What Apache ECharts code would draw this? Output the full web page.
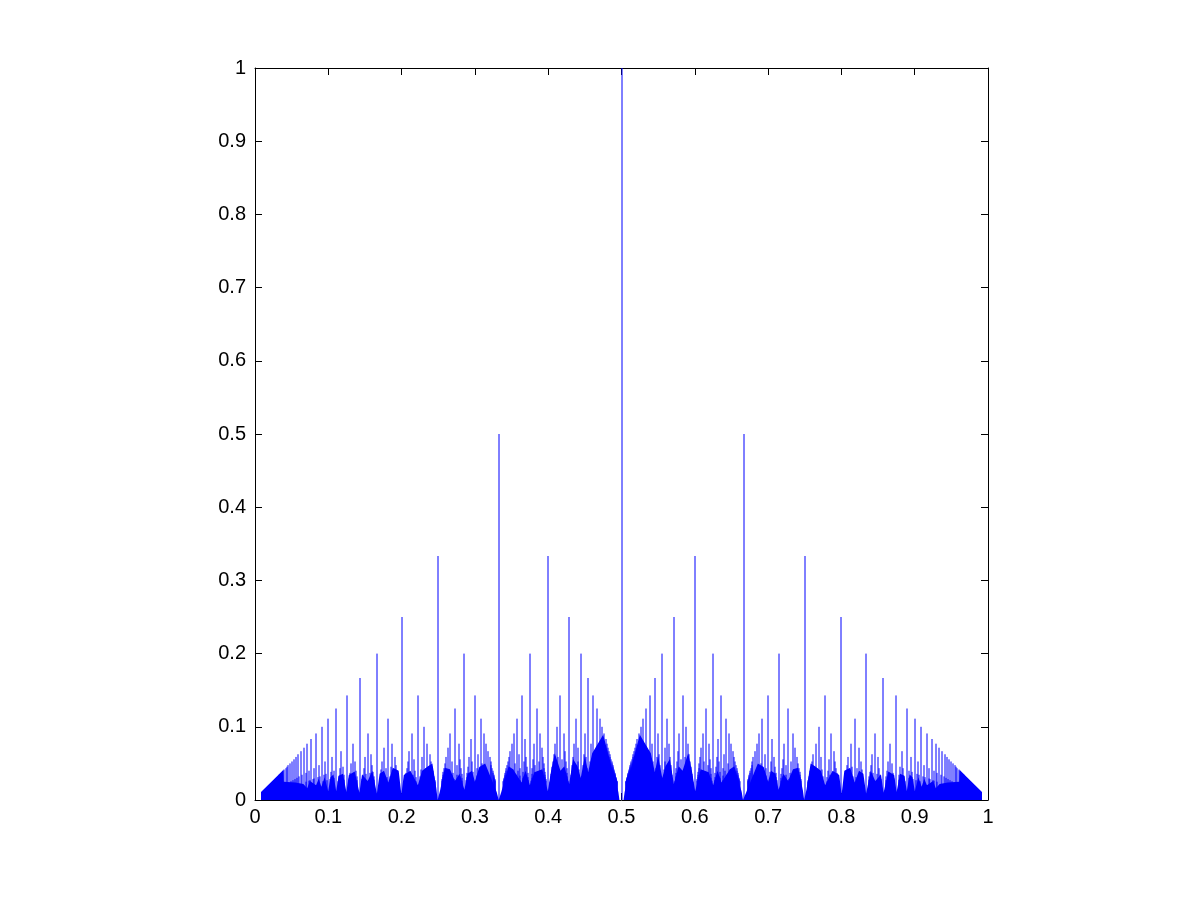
<!DOCTYPE html>
<html>
<head>
<meta charset="utf-8">
<script src="https://cdn.jsdelivr.net/npm/echarts@6/dist/echarts.min.js"></script>
<style>html,body{margin:0;padding:0;background:#fff;}#chart{width:1200px;height:900px;}</style>
</head>
<body>
<div id="chart"></div>
<script>
// Tick labels
const xTickLabels = ['0','0.1','0.2','0.3','0.4','0.5','0.6','0.7','0.8','0.9','1'];
const yTickLabels = ['0','0.1','0.2','0.3','0.4','0.5','0.6','0.7','0.8','0.9','1'];

// Stem heights, one per level (tallest first)
const levelHeights = [1,1/2,1/3,1/4,1/5,1/6,1/7,1/8,1/9,1/10,1/11,1/12,1/13,1/14,1/15,1/16,1/17,1/18,1/19,1/20,1/21,1/22,1/23,1/24,1/25,1/26,1/27,1/28,1/29,1/30,1/31,1/32,1/33,1/34,1/35,1/36,1/37,1/38,1/39,1/40];

// Stem positions for each level (same order as levelHeights)
const levelPositions = [
[1/2],
[1/3,2/3],
[1/4,2/5,3/5,3/4],
[1/5,3/7,4/7,4/5],
[1/6,2/7,3/8,4/9,5/9,5/8,5/7,5/6],
[1/7,5/11,6/11,6/7],
[1/8,2/9,3/10,4/11,5/12,6/13,7/13,7/12,7/11,7/10,7/9,7/8],
[1/9,3/11,5/13,7/15,8/15,8/13,8/11,8/9],
[1/10,2/11,4/13,5/14,7/16,8/17,9/17,9/16,9/14,9/13,9/11,9/10],
[1/11,3/13,7/17,9/19,10/19,10/17,10/13,10/11],
[1/12,2/13,3/14,4/15,5/16,6/17,7/18,8/19,9/20,10/21,11/21,11/20,11/19,11/18,11/17,11/16,11/15,11/14,11/13,11/12],
[1/13,5/17,7/19,11/23,12/23,12/19,12/17,12/13],
[1/14,2/15,3/16,4/17,5/18,6/19,7/20,8/21,9/22,10/23,11/24,12/25,13/25,13/24,13/23,13/22,13/21,13/20,13/19,13/18,13/17,13/16,13/15,13/14],
[1/15,3/17,5/19,9/23,11/25,13/27,14/27,14/25,14/23,14/19,14/17,14/15],
[1/16,2/17,4/19,7/22,8/23,11/26,13/28,14/29,15/29,15/28,15/26,15/23,15/22,15/19,15/17,15/16],
[1/17,3/19,5/21,7/23,9/25,11/27,13/29,15/31,16/31,16/29,16/27,16/25,16/23,16/21,16/19,16/17],
[1/18,2/19,3/20,4/21,5/22,6/23,7/24,8/25,9/26,10/27,11/28,12/29,13/30,14/31,15/32,16/33,17/33,17/32,17/31,17/30,17/29,17/28,17/27,17/26,17/25,17/24,17/23,17/22,17/21,17/20,17/19,17/18],
[1/19,5/23,7/25,11/29,13/31,17/35,18/35,18/31,18/29,18/25,18/23,18/19],
[1/20,2/21,3/22,4/23,5/24,6/25,7/26,8/27,9/28,10/29,11/30,12/31,13/32,14/33,15/34,16/35,17/36,18/37,19/37,19/36,19/35,19/34,19/33,19/32,19/31,19/30,19/29,19/28,19/27,19/26,19/25,19/24,19/23,19/22,19/21,19/20],
[1/21,3/23,7/27,9/29,11/31,13/33,17/37,19/39,20/39,20/37,20/33,20/31,20/29,20/27,20/23,20/21],
[1/22,2/23,4/25,5/26,8/29,10/31,11/32,13/34,16/37,17/38,19/40,20/41,21/41,21/40,21/38,21/37,21/34,21/32,21/31,21/29,21/26,21/25,21/23,21/22],
[1/23,3/25,5/27,7/29,9/31,13/35,15/37,17/39,19/41,21/43,22/43,22/41,22/39,22/37,22/35,22/31,22/29,22/27,22/25,22/23],
[1/24,2/25,3/26,4/27,5/28,6/29,7/30,8/31,9/32,10/33,11/34,12/35,13/36,14/37,15/38,16/39,17/40,18/41,19/42,20/43,21/44,22/45,23/45,23/44,23/43,23/42,23/41,23/40,23/39,23/38,23/37,23/36,23/35,23/34,23/33,23/32,23/31,23/30,23/29,23/28,23/27,23/26,23/25,23/24],
[1/25,5/29,7/31,11/35,13/37,17/41,19/43,23/47,24/47,24/43,24/41,24/37,24/35,24/31,24/29,24/25],
[1/26,2/27,3/28,4/29,6/31,7/32,8/33,9/34,11/36,12/37,13/38,14/39,16/41,17/42,18/43,19/44,21/46,22/47,23/48,24/49,25/49,25/48,25/47,25/46,25/44,25/43,25/42,25/41,25/39,25/38,25/37,25/36,25/34,25/33,25/32,25/31,25/29,25/28,25/27,25/26],
[1/27,3/29,5/31,7/33,9/35,11/37,15/41,17/43,19/45,21/47,23/49,25/51,26/51,26/49,26/47,26/45,26/43,26/41,26/37,26/35,26/33,26/31,26/29,26/27],
[1/28,2/29,4/31,5/32,7/34,8/35,10/37,11/38,13/40,14/41,16/43,17/44,19/46,20/47,22/49,23/50,25/52,26/53,27/53,27/52,27/50,27/49,27/47,27/46,27/44,27/43,27/41,27/40,27/38,27/37,27/35,27/34,27/32,27/31,27/29,27/28],
[1/29,3/31,5/33,9/37,11/39,13/41,15/43,17/45,19/47,23/51,25/53,27/55,28/55,28/53,28/51,28/47,28/45,28/43,28/41,28/39,28/37,28/33,28/31,28/29],
[1/30,2/31,3/32,4/33,5/34,6/35,7/36,8/37,9/38,10/39,11/40,12/41,13/42,14/43,15/44,16/45,17/46,18/47,19/48,20/49,21/50,22/51,23/52,24/53,25/54,26/55,27/56,28/57,29/57,29/56,29/55,29/54,29/53,29/52,29/51,29/50,29/49,29/48,29/47,29/46,29/45,29/44,29/43,29/42,29/41,29/40,29/39,29/38,29/37,29/36,29/35,29/34,29/33,29/32,29/31,29/30],
[1/31,7/37,11/41,13/43,17/47,19/49,23/53,29/59,30/59,30/53,30/49,30/47,30/43,30/41,30/37,30/31],
[1/32,2/33,3/34,4/35,5/36,6/37,7/38,8/39,9/40,10/41,11/42,12/43,13/44,14/45,15/46,16/47,17/48,18/49,19/50,20/51,21/52,22/53,23/54,24/55,25/56,26/57,27/58,28/59,29/60,30/61,31/61,31/60,31/59,31/58,31/57,31/56,31/55,31/54,31/53,31/52,31/51,31/50,31/49,31/48,31/47,31/46,31/45,31/44,31/43,31/42,31/41,31/40,31/39,31/38,31/37,31/36,31/35,31/34,31/33,31/32],
[1/33,3/35,5/37,7/39,9/41,11/43,13/45,15/47,17/49,19/51,21/53,23/55,25/57,27/59,29/61,31/63,32/63,32/61,32/59,32/57,32/55,32/53,32/51,32/49,32/47,32/45,32/43,32/41,32/39,32/37,32/35,32/33],
[1/34,2/35,4/37,5/38,7/40,8/41,10/43,13/46,14/47,16/49,17/50,19/52,20/53,23/56,25/58,26/59,28/61,29/62,31/64,32/65,33/65,33/64,33/62,33/61,33/59,33/58,33/56,33/53,33/52,33/50,33/49,33/47,33/46,33/43,33/41,33/40,33/38,33/37,33/35,33/34],
[1/35,3/37,5/39,7/41,9/43,11/45,13/47,15/49,19/53,21/55,23/57,25/59,27/61,29/63,31/65,33/67,34/67,34/65,34/63,34/61,34/59,34/57,34/55,34/53,34/49,34/47,34/45,34/43,34/41,34/39,34/37,34/35],
[1/36,2/37,3/38,4/39,6/41,8/43,9/44,11/46,12/47,13/48,16/51,17/52,18/53,19/54,22/57,23/58,24/59,26/61,27/62,29/64,31/66,32/67,33/68,34/69,35/69,35/68,35/67,35/66,35/64,35/62,35/61,35/59,35/58,35/57,35/54,35/53,35/52,35/51,35/48,35/47,35/46,35/44,35/43,35/41,35/39,35/38,35/37,35/36],
[1/37,5/41,7/43,11/47,13/49,17/53,19/55,23/59,25/61,29/65,31/67,35/71,36/71,36/67,36/65,36/61,36/59,36/55,36/53,36/49,36/47,36/43,36/41,36/37],
[1/38,2/39,3/40,4/41,5/42,6/43,7/44,8/45,9/46,10/47,11/48,12/49,13/50,14/51,15/52,16/53,17/54,18/55,19/56,20/57,21/58,22/59,23/60,24/61,25/62,26/63,27/64,28/65,29/66,30/67,31/68,32/69,33/70,34/71,35/72,36/73,37/73,37/72,37/71,37/70,37/69,37/68,37/67,37/66,37/65,37/64,37/63,37/62,37/61,37/60,37/59,37/58,37/57,37/56,37/55,37/54,37/53,37/52,37/51,37/50,37/49,37/48,37/47,37/46,37/45,37/44,37/43,37/42,37/41,37/40,37/39,37/38],
[1/39,3/41,5/43,7/45,9/47,11/49,13/51,15/53,17/55,21/59,23/61,25/63,27/65,29/67,31/69,33/71,35/73,37/75,38/75,38/73,38/71,38/69,38/67,38/65,38/63,38/61,38/59,38/55,38/53,38/51,38/49,38/47,38/45,38/43,38/41,38/39],
[1/40,2/41,4/43,5/44,7/46,8/47,10/49,11/50,14/53,16/55,17/56,19/58,20/59,22/61,23/62,25/64,28/67,29/68,31/70,32/71,34/73,35/74,37/76,38/77,39/77,39/76,39/74,39/73,39/71,39/70,39/68,39/67,39/64,39/62,39/61,39/59,39/58,39/56,39/55,39/53,39/50,39/49,39/47,39/46,39/44,39/43,39/41,39/40],
[1/41,3/43,7/47,9/49,11/51,13/53,17/57,19/59,21/61,23/63,27/67,29/69,31/71,33/73,37/77,39/79,40/79,40/77,40/73,40/71,40/69,40/67,40/63,40/61,40/59,40/57,40/53,40/51,40/49,40/47,40/43,40/41]
];

// Dense base of very short stems, read as an outline from the picture
const floorX = [0.0082,0.0082,0.0387,0.0393,0.055,0.066,0.0712,0.075,0.0833,0.087,0.0905,0.095,0.0998,0.103,0.107,0.1108,0.114,0.120,0.1247,0.128,0.136,0.1425,0.146,0.1538,0.160,0.1663,0.170,0.176,0.1818,0.188,0.196,0.1997,0.203,0.212,0.2222,0.228,0.236,0.242,0.2475,0.2492,0.2508,0.2525,0.259,0.266,0.2727,0.279,0.2857,0.290,0.296,0.300,0.306,0.314,0.3297,0.3325,0.3342,0.336,0.346,0.352,0.3636,0.369,0.375,0.381,0.392,0.3995,0.404,0.409,0.4167,0.422,0.4286,0.434,0.440,0.4444,0.450,0.4545,0.460,0.475,0.4957,0.4972,
0.5028,0.5043,0.525,0.540,0.5455,0.550,0.5556,0.560,0.566,0.5714,0.578,0.5833,0.591,0.596,0.6005,0.608,0.619,0.625,0.631,0.6364,0.648,0.654,0.664,0.6658,0.6675,0.6703,0.686,0.694,0.700,0.704,0.710,0.7143,0.721,0.7273,0.734,0.741,0.7475,0.7492,0.7508,0.7525,0.758,0.764,0.772,0.7778,0.788,0.797,0.8003,0.804,0.812,0.8182,0.824,0.830,0.8337,0.840,0.8462,0.854,0.8575,0.864,0.872,0.8753,0.880,0.886,0.8892,0.893,0.897,0.9002,0.905,0.9095,0.913,0.9167,0.925,0.9288,0.934,0.945,0.9607,0.9613,0.9918,0.9918];
const floorY = [0,0.011,0.041,0.025,0.024,0.022,0.016,0.026,0.020,0.029,0.018,0.031,0.012,0.031,0.035,0.012,0.033,0.036,0.011,0.034,0.039,0.010,0.035,0.026,0.040,0.009,0.036,0.040,0.024,0.044,0.040,0.008,0.034,0.040,0.020,0.040,0.046,0.050,0.015,0,0,0.013,0.044,0.042,0.026,0.036,0.014,0.036,0.040,0.025,0.045,0.050,0.011,0,0,0.011,0.046,0.042,0.024,0.040,0.020,0.038,0.042,0.012,0.040,0.064,0.040,0.046,0.022,0.056,0.046,0.030,0.060,0.038,0.064,0.089,0.011,0,
0,0.011,0.089,0.064,0.038,0.060,0.030,0.046,0.056,0.022,0.046,0.040,0.064,0.040,0.012,0.042,0.038,0.020,0.040,0.024,0.042,0.046,0.011,0,0,0.011,0.050,0.045,0.025,0.040,0.036,0.014,0.036,0.026,0.042,0.044,0.013,0,0,0.015,0.050,0.046,0.040,0.020,0.040,0.034,0.008,0.040,0.044,0.024,0.040,0.036,0.009,0.040,0.026,0.035,0.010,0.039,0.034,0.011,0.036,0.033,0.012,0.035,0.031,0.012,0.031,0.018,0.029,0.020,0.026,0.016,0.022,0.024,0.025,0.041,0.011,0];

// Build tables for the library
const stemData = [];
levelPositions.forEach(function (xs, i) {
  xs.forEach(function (x) { stemData.push([x, levelHeights[i]]); });
});
const floorData = floorX.map(function (x, i) { return [x, floorY[i]]; });

const BLUE = '#0000ff';
const FONT = 'Liberation Sans, Arial, sans-serif';

function axisCommon(pos, showLabels, labels) {
  return {
    type: 'value', min: 0, max: 1, interval: 0.1, position: pos,
    axisLine: { show: true, onZero: false, lineStyle: { color: '#000', width: 1 } },
    axisTick: { show: true, inside: true, length: 7, lineStyle: { color: '#000', width: 1 } },
    axisLabel: {
      show: showLabels, color: '#000', fontSize: 20, fontFamily: FONT,
      margin: (pos === 'left' ? 9 : 7), showMinLabel: true, showMaxLabel: true,
      formatter: function (v) { return labels[Math.round(v * 10)]; }
    },
    splitLine: { show: false }
  };
}

const chart = echarts.init(document.getElementById('chart'), null, { renderer: 'canvas' });
chart.setOption({
  animation: false,
  backgroundColor: '#fff',
  grid: { left: 255, right: 212, top: 68, bottom: 100, containLabel: false },
  xAxis: [axisCommon('bottom', true, xTickLabels), axisCommon('top', false, xTickLabels)],
  yAxis: [axisCommon('left', true, yTickLabels), axisCommon('right', false, yTickLabels)],
  series: [
    {
      type: 'line', xAxisIndex: 0, yAxisIndex: 0, data: floorData,
      symbol: 'none', silent: true,
      lineStyle: { width: 0, color: BLUE },
      areaStyle: { color: BLUE, opacity: 1 },
      z: 2
    },
    {
      type: 'custom', xAxisIndex: 0, yAxisIndex: 0, data: stemData,
      encode: { x: 0, y: 1 }, clip: true, silent: true, z: 3,
      renderItem: function (params, api) {
        const x = api.value(0), h = api.value(1);
        const p0 = api.coord([x, 0]);
        const p1 = api.coord([x, h]);
        // stem placed on a pixel boundary so it spreads over two light pixels, as in the original
        const px = Math.round(p0[0]);
        return {
          type: 'line',
          shape: { x1: px, y1: p0[1], x2: px, y2: p1[1] },
          style: { stroke: BLUE, lineWidth: 1 }
        };
      }
    }
  ]
});
</script>
</body>
</html>
